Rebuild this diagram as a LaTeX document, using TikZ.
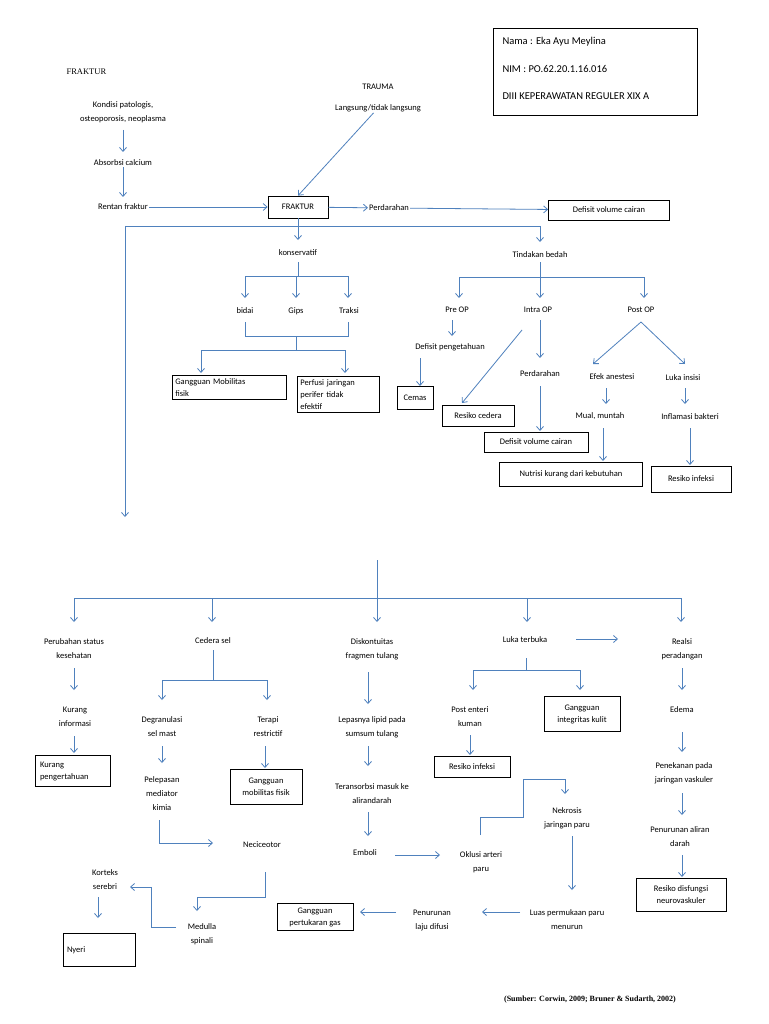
\documentclass[tikz,border=0pt]{standalone}
\usepackage{fontspec}
\setmainfont{Carlito}
\newfontfamily\serif{Liberation Serif}
\usetikzlibrary{arrows.meta}
\definecolor{ln}{RGB}{79,129,189}
\begin{document}
\begin{tikzpicture}[x=1pt,y=-1pt,
  t/.style={font=\fontsize{8.5}{14}\selectfont, align=center, inner sep=1pt},
  b/.style={t, draw=black, line width=0.7pt, inner sep=3pt},
  bl/.style={b, align=left},
  a/.style={draw=ln, line width=0.8pt, -{Straight Barb[length=4pt,width=7pt]}},
  l/.style={draw=ln, line width=0.8pt}]
\useasboundingbox (0,0) rectangle (768,1024);
\fill[white] (0,0) rectangle (768,1024);
% header
\draw[line width=0.7pt] (493,28) rectangle (697,115);
\node[anchor=west,font=\fontsize{10.5}{12}\selectfont] (nm) at (499,42) {Nama : Eka Ayu Meylina};
\node[anchor=west,font=\fontsize{10.5}{12}\selectfont] (nim) at (499,69) {NIM : PO.62.20.1.16.016};
\node[anchor=west,font=\fontsize{10.5}{12}\selectfont] (d3) at (499,96) {DIII KEPERAWATAN REGULER XIX A};
\node[anchor=west,font=\serif\fontsize{8.5}{10}\selectfont] (title) at (63,72) {FRAKTUR};
\node[t] (trauma) at (378,87) {TRAUMA};
\node[t] (lang) at (378,108) {Langsung/tidak langsung};
\node[t] (kond) at (123,112) {Kondisi patologis,\\ osteoporosis, neoplasma};
\node[t] (abs) at (123,163) {Absorbsi calcium};
\node[t] (rent) at (123,207) {Rentan fraktur};
\node[b, minimum width=60pt, minimum height=22pt] (frak) at (298,207) {FRAKTUR};
\node[t] (perd) at (389,208) {Perdarahan};
\node[b, minimum width=121pt, minimum height=20pt] (dvc) at (609,210) {Defisit volume cairan};
\draw[a] (123,130) -- (123,152);
\draw[a] (abs) -- (123,197);
\draw[a] (rent) -- (frak);
\draw[a] (lang) -- (frak.north);
\draw[a] (frak) -- (perd);
\draw[a] (perd) -- (dvc);
\draw[a] (frak.south) -- (298,240);
\coordinate (c1) at (125,226);
\draw[l] (540,226) -- (c1);
\draw[a] (c1) -- (125,517);
\draw[a] (540,226) -- (540,242);
\node[t] (kons) at (298,253) {konservatif};
\node[t] (tind) at (540,255) {Tindakan bedah};
% konservatif
\draw[l] (298,262) -- (298,276);
\draw[l] (245,276) -- (348,276);
\node[t] (bidai) at (245,311) {bidai};
\node[t] (gips) at (296,311) {Gips};
\node[t] (traksi) at (349,311) {Traksi};
\draw[a] (245,276) -- (245,298);
\draw[a] (296,276) -- (296,298);
\draw[a] (348,276) -- (348,298);
\draw[l] (245,322) -- (245,336) -- (348,336) -- (348,322);
\draw[l] (296,336) -- (296,350);
\draw[l] (201,350) -- (345,350);
\draw[a] (201,350) -- (201,373);
\draw[a] (345,350) -- (345,373);
\node[bl, anchor=north west, text width=108pt, font=\fontsize{8.5}{12}\selectfont] (gmf) at (172,375) {Gangguan Mobilitas\\ fisik};
\node[bl, anchor=north west, text width=76pt, font=\fontsize{8.5}{12}\selectfont] (pjp) at (297,376) {Perfusi jaringan\\ perifer tidak\\ efektif};
% bedah
\draw[l] (540,262) -- (540,277);
\draw[l] (459,277) -- (644,277);
\draw[a] (459,277) -- (459,298);
\draw[a] (540,277) -- (540,298);
\draw[a] (644,277) -- (644,298);
\node[t] (pre) at (457,310) {Pre OP};
\node[t] (intra) at (538,310) {Intra OP};
\node[t] (post) at (641,310) {Post OP};
\draw[a] (452,320) -- (452,336);
\node[t] (dp) at (450,347) {Defisit pengetahuan};
\node[b, minimum width=36pt, minimum height=23pt] (cemas) at (415,398) {Cemas};
\draw[a] (420,358) -- (420,386);
\draw[a] (522,330) -- (462,403);
\node[b, minimum width=72pt, minimum height=21pt] (rc) at (478,416) {Resiko cedera};
\draw[a] (540,320) -- (540,358);
\node[t] (perd2) at (540,374) {Perdarahan};
\node[b, minimum width=104pt, minimum height=20pt] (dvc2) at (536,442) {Defisit volume cairan};
\draw[a] (540,386) -- (540,431);
\node[t] (efek) at (612,377) {Efek anestesi};
\node[t] (luka) at (683,378) {Luka insisi};
\draw[a] (641,322) -- (593,364);
\draw[a] (641,322) -- (685,364);
\node[t] (mual) at (600,416) {Mual, muntah};
\node[t] (infl) at (690,417) {Inflamasi bakteri};
\draw[a] (606,388) -- (606,404);
\draw[a] (685,388) -- (685,404);
\node[b, minimum width=143pt, minimum height=24pt] (nutri) at (571,474) {Nutrisi kurang dari kebutuhan};
\node[b, minimum width=80pt, minimum height=26pt] (ri1) at (691,479) {Resiko infeksi};
\draw[a] (603,428) -- (603,461);
\draw[a] (690,428) -- (690,465);
% bottom
\draw[l] (377,560) -- (377,598);
\draw[l] (74,598) -- (681,598);
\foreach \x in {74,212,377,527,681} \draw[a] (\x,598) -- (\x,622);
\node[t] (pub) at (74,649) {Perubahan status\\ kesehatan};
\node[t] (cs) at (213,641) {Cedera sel};
\node[t] (disk) at (372,649) {Diskontuitas\\ fragmen tulang};
\node[t] (lt) at (525,640) {Luka terbuka};
\node[t] (rp) at (682,649) {Realsi\\ peradangan};
\draw[a] (576,639) -- (618,639);
\draw[a] (74,668) -- (74,690);
\node[t] (ki) at (75,717) {Kurang\\ informasi};
\draw[a] (74,736) -- (74,753);
\node[b, minimum width=75pt, minimum height=31pt, text width=66pt, align=left, font=\fontsize{8.5}{12}\selectfont] (kp) at (73,771) {Kurang\\ pengertahuan};
% cedera sel
\draw[l] (213,650) -- (213,680);
\draw[l] (162,680) -- (267,680);
\draw[a] (162,680) -- (162,700);
\draw[a] (267,680) -- (267,700);
\node[t] (deg) at (162,727) {Degranulasi\\ sel mast};
\node[t] (ter) at (268,727) {Terapi\\ restrictif};
\draw[a] (265,746) -- (265,768);
\node[b, minimum width=72pt, minimum height=35pt, font=\fontsize{8.5}{12}\selectfont] (gmf2) at (266,787) {Gangguan\\ mobilitas fisik};
\draw[a] (162,746) -- (162,763);
\node[t] (pel) at (162,794) {Pelepasan\\ mediator\\ kimia};
\draw[a] (159,820) -- (159,843) -- (213,843);
\node[t] (nec) at (262,845) {Neciceotor};
\draw[a] (265,872) -- (265,897) -- (197,897) -- (197,911);
\node[t] (med) at (202,934) {Medulla\\ spinali};
\draw[a] (176,927) -- (151,927) -- (151,887) -- (130,887);
\node[t] (kor) at (105,880) {Korteks\\ serebri};
\draw[a] (98,897) -- (98,918);
\node[b, minimum width=72pt, minimum height=33pt, text width=64pt, align=left] (nyeri) at (99,950) {Nyeri};
% diskontuitas
\draw[a] (368,672) -- (368,704);
\node[t] (lip) at (372,727) {Lepasnya lipid pada\\ sumsum tulang};
\draw[a] (368,746) -- (368,766);
\node[t] (tra) at (372,794) {Teransorbsi masuk ke\\ alirandarah};
\draw[a] (368,812) -- (368,836);
\node[t] (emb) at (365,853) {Emboli};
\draw[a] (395,855) -- (440,855);
\node[t] (okl) at (481,862) {Oklusi arteri\\ paru};
\draw[a] (480,835) -- (480,817) -- (523,817) -- (523,779) -- (565,779) -- (565,794);
\node[t] (nek) at (567,818) {Nekrosis\\ jaringan paru};
\draw[a] (572,836) -- (572,890);
\node[t] (luas) at (567,920) {Luas permukaan paru\\ menurun};
\draw[a] (520,912) -- (482,912);
\node[t] (pld) at (432,920) {Penurunan\\ laju difusi};
\draw[a] (396,912) -- (360,912);
\node[b, minimum width=76pt, minimum height=27pt, font=\fontsize{8.5}{12}\selectfont] (gpg) at (315,917) {Gangguan\\ pertukaran gas};
% luka terbuka
\draw[l] (526,658) -- (526,670);
\draw[l] (473,670) -- (580,670);
\draw[a] (473,670) -- (473,690);
\draw[a] (580,670) -- (580,690);
\node[t] (pek) at (470,717) {Post enteri\\ kuman};
\node[b, minimum width=76pt, minimum height=35pt, font=\fontsize{8.5}{12}\selectfont] (gik) at (582,714) {Gangguan\\ integritas kulit};
\draw[a] (470,735) -- (470,755);
\node[b, minimum width=76pt, minimum height=21pt] (ri2) at (472,767) {Resiko infeksi};
% peradangan
\draw[a] (682,668) -- (682,690);
\node[t] (ed) at (682,710) {Edema};
\draw[a] (682,732) -- (682,752);
\node[t] (pen) at (684,773) {Penekanan pada\\ jaringan vaskuler};
\draw[a] (682,793) -- (682,815);
\node[t] (pad) at (680,837) {Penurunan aliran\\ darah};
\draw[a] (682,855) -- (682,877);
\node[b, minimum width=90pt, minimum height=33pt, font=\fontsize{8.5}{12}\selectfont] (rdn) at (681,895) {Resiko disfungsi\\ neurovaskuler};
\node[font=\serif\bfseries\fontsize{8}{9}\selectfont] (src) at (590,1000) {(Sumber: Corwin, 2009; Bruner \& Sudarth, 2002)};
\end{tikzpicture}
\end{document}
